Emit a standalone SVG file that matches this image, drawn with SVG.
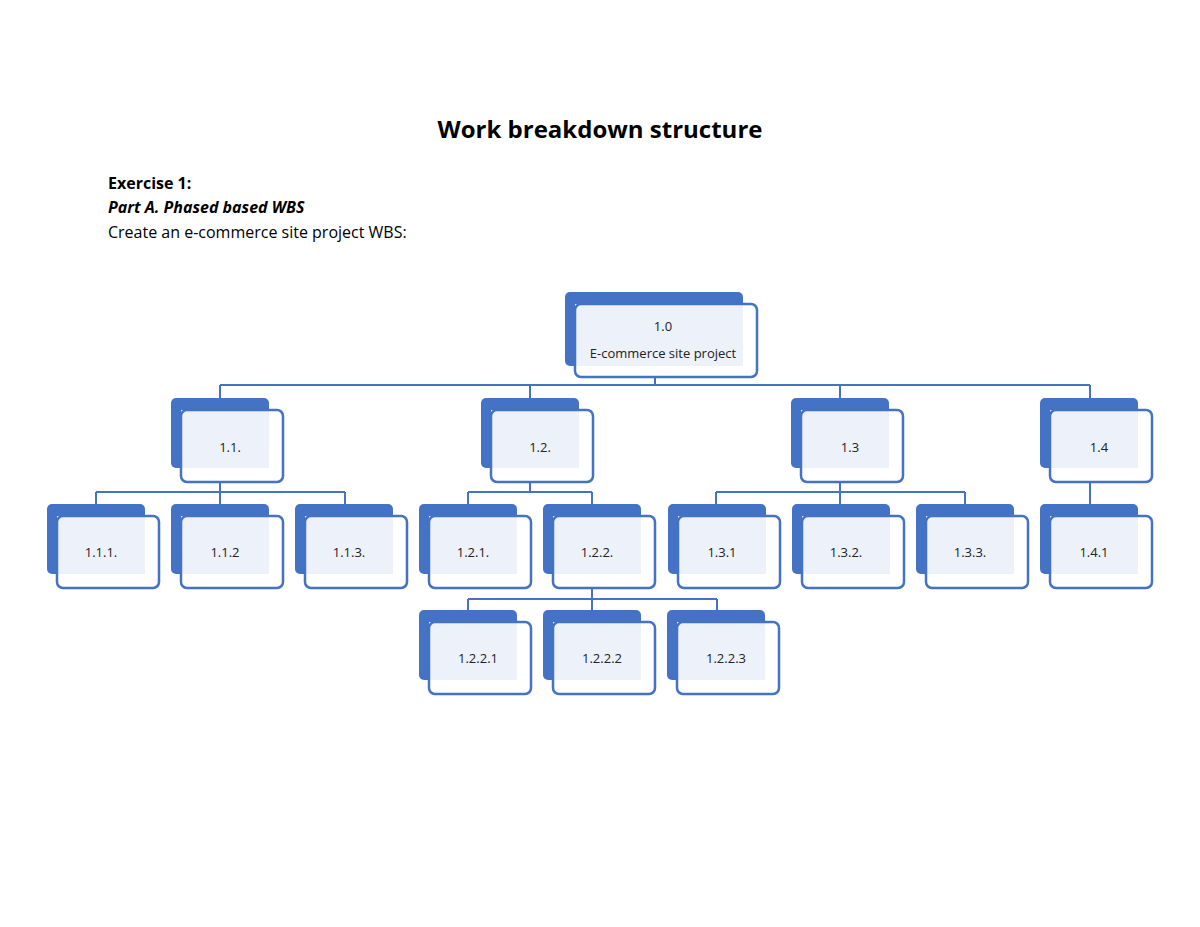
<svg xmlns="http://www.w3.org/2000/svg" width="1200" height="927" viewBox="0 0 1200 927">
<defs><style>
.b{fill:#4472C4}
.l{fill:#EDF1F9}
.f{fill:none;stroke:#4472C4;stroke-width:2.5}
.t{font-family:"Open Sans","Liberation Sans",sans-serif;font-size:13px;fill:#222;text-anchor:middle}
.c{fill:none;stroke:#4472C4;stroke-width:2}
.h{font-family:"Open Sans","Liberation Sans",sans-serif;fill:#000}
</style>
<g id="n"><rect class="b" x="0" y="0" width="98" height="70" rx="5"/><rect class="l" x="10" y="12" width="88" height="58"/><rect class="f" x="10" y="12" width="102" height="72" rx="6"/></g>
</defs>
<rect width="1200" height="927" fill="#fff"/>
<text class="h" x="600" y="138" font-size="24" font-weight="bold" text-anchor="middle">Work breakdown structure</text>
<text class="h" x="108" y="189" font-size="16" font-weight="bold">Exercise 1:</text>
<text class="h" x="108" y="213" font-size="16" font-weight="bold" font-style="italic">Part A. Phased based WBS</text>
<text class="h" x="108" y="238" font-size="16">Create an e-commerce site project WBS:</text>
<g id="connectors">
<path class="c" d="M655 377V385M220 385H1090M220 385V398M530 385V398M840 385V398M1090 385V398"/>
<path class="c" d="M220 482V492M96 492H345M96 492V504M220 492V504M345 492V504"/>
<path class="c" d="M530 482V492M468 492H592M468 492V504M592 492V504"/>
<path class="c" d="M840 482V492M716 492H965M716 492V504M840 492V504M965 492V504"/>
<path class="c" d="M1090 482V504"/>
<path class="c" d="M592 588V599M468 599H717M468 599V610M592 599V610M717 599V610"/>
</g>
<g id="n10"><rect class="b" x="565" y="292" width="178" height="74" rx="5"/><rect class="l" x="575" y="304" width="168" height="62"/><rect class="f" x="575" y="304" width="182" height="73" rx="6"/><text class="t" x="663" y="331">1.0</text><text class="t" x="663" y="358">E-commerce site project</text></g>
<g id="n11"><use href="#n" x="171" y="398"/><text class="t" x="230" y="452">1.1.</text></g>
<g id="n12"><use href="#n" x="481" y="398"/><text class="t" x="540" y="452">1.2.</text></g>
<g id="n13"><use href="#n" x="791" y="398"/><text class="t" x="850" y="452">1.3</text></g>
<g id="n14"><use href="#n" x="1040" y="398"/><text class="t" x="1099" y="452">1.4</text></g>
<g id="n111"><use href="#n" x="47" y="504"/><text class="t" x="101" y="557">1.1.1.</text></g>
<g id="n112"><use href="#n" x="171" y="504"/><text class="t" x="225" y="557">1.1.2</text></g>
<g id="n113"><use href="#n" x="295" y="504"/><text class="t" x="349" y="557">1.1.3.</text></g>
<g id="n121"><use href="#n" x="419" y="504"/><text class="t" x="473" y="557">1.2.1.</text></g>
<g id="n122"><use href="#n" x="543" y="504"/><text class="t" x="597" y="557">1.2.2.</text></g>
<g id="n131"><use href="#n" x="668" y="504"/><text class="t" x="722" y="557">1.3.1</text></g>
<g id="n132"><use href="#n" x="792" y="504"/><text class="t" x="846" y="557">1.3.2.</text></g>
<g id="n133"><use href="#n" x="916" y="504"/><text class="t" x="970" y="557">1.3.3.</text></g>
<g id="n141"><use href="#n" x="1040" y="504"/><text class="t" x="1094" y="557">1.4.1</text></g>
<g id="n1221"><use href="#n" x="419" y="610"/><text class="t" x="478" y="663">1.2.2.1</text></g>
<g id="n1222"><use href="#n" x="543" y="610"/><text class="t" x="602" y="663">1.2.2.2</text></g>
<g id="n1223"><use href="#n" x="667" y="610"/><text class="t" x="726" y="663">1.2.2.3</text></g>
</svg>
